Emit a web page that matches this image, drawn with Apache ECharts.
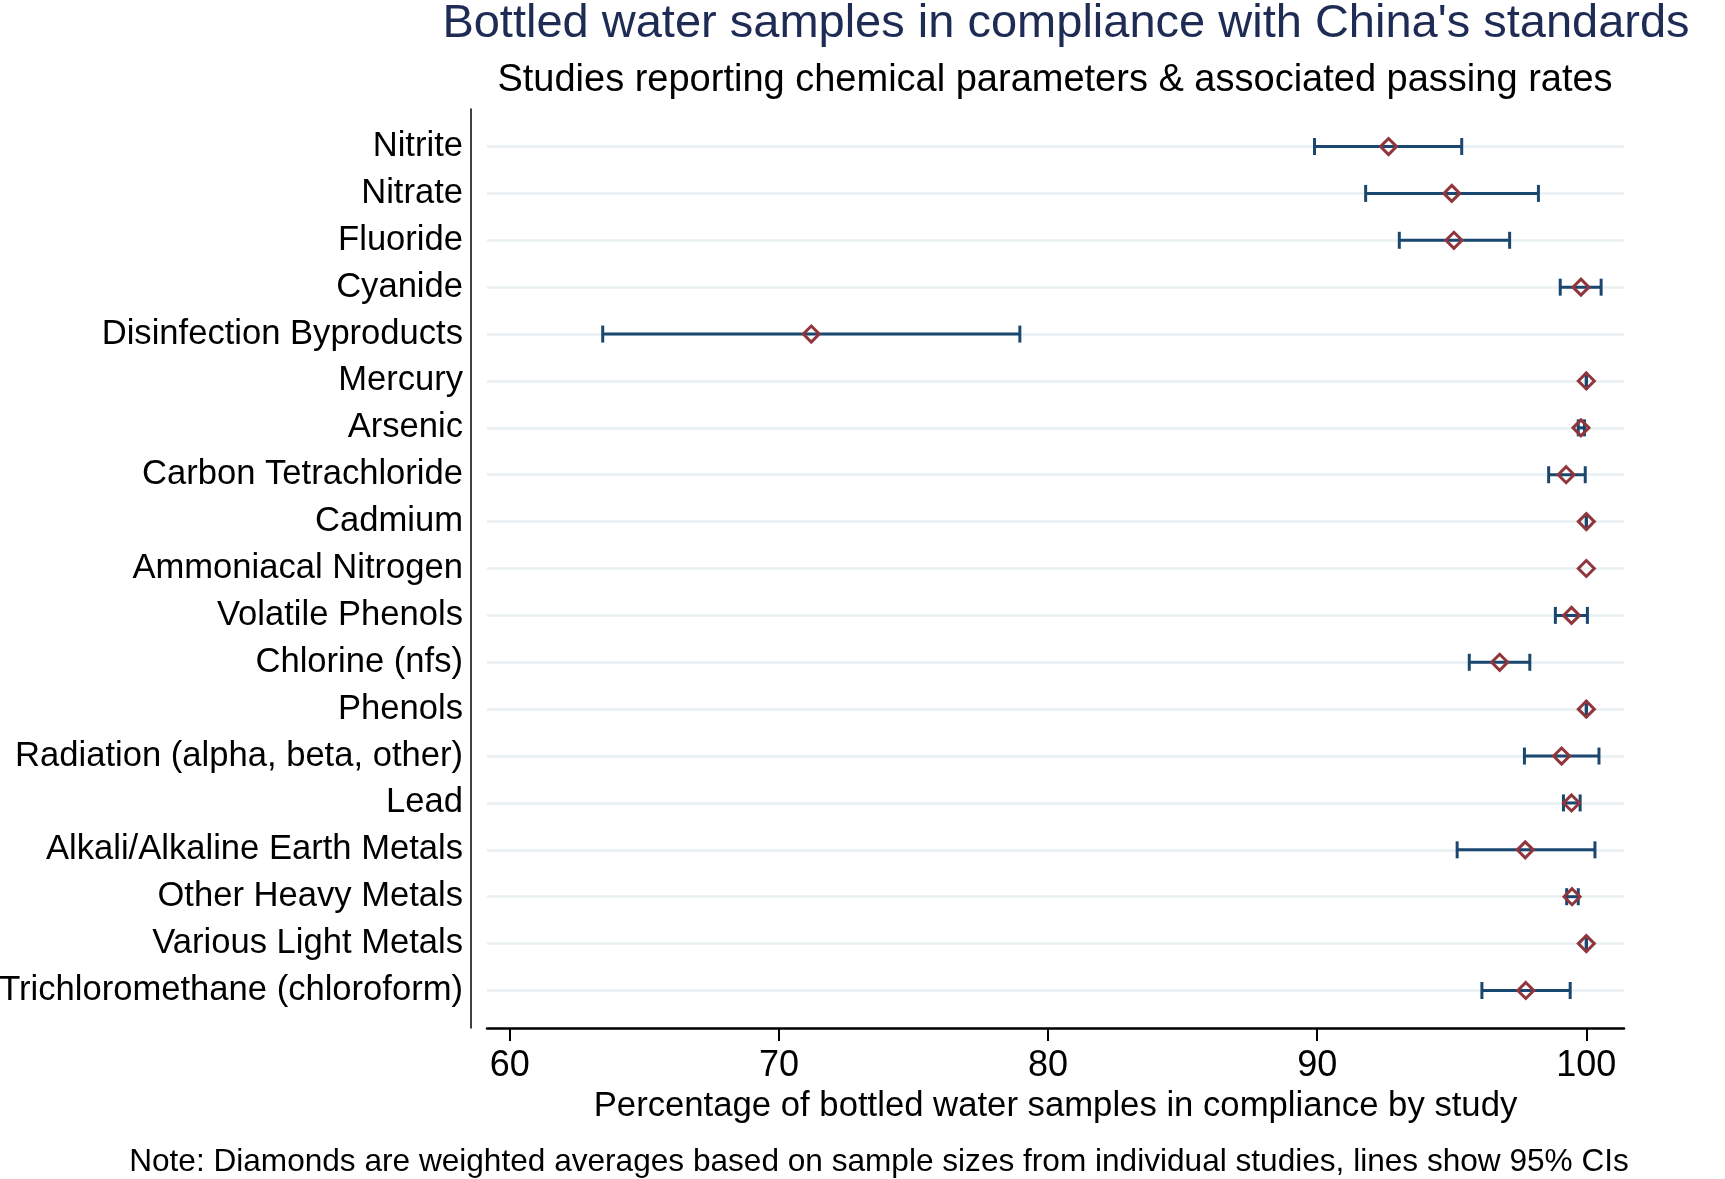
<!DOCTYPE html>
<html>
<head>
<meta charset="utf-8">
<title>Bottled water compliance</title>
<script src="https://cdn.jsdelivr.net/npm/echarts@6/dist/echarts.min.js"></script>
<style>
  html, body { margin: 0; padding: 0; background: #fff; }
  #chart { width: 1725px; height: 1179px; }
</style>
</head>
<body>
<div id="chart"></div>
<script>
// rows, top to bottom
const categories = [
  'Nitrite', 'Nitrate', 'Fluoride', 'Cyanide', 'Disinfection Byproducts',
  'Mercury', 'Arsenic', 'Carbon Tetrachloride', 'Cadmium', 'Ammoniacal Nitrogen',
  'Volatile Phenols', 'Chlorine (nfs)', 'Phenols', 'Radiation (alpha, beta, other)', 'Lead',
  'Alkali/Alkaline Earth Metals', 'Other Heavy Metals', 'Various Light Metals', 'Trichloromethane (chloroform)'
];
// weighted averages (diamonds)
const meanValues = [92.65, 95.0, 95.08, 99.8, 71.2, 100, 99.8, 99.25, 100, 100,
  99.45, 96.78, 100, 99.08, 99.45, 97.73, 99.47, 100, 97.75];
// 95% CI ends (null = no interval drawn)
const lowerCI = [89.9, 91.8, 93.05, 99.03, 63.45, 100, 99.7, 98.6, 100, null,
  98.85, 95.65, 100, 97.7, 99.15, 95.2, 99.27, 100, 96.12];
const upperCI = [95.37, 98.22, 97.15, 100.55, 78.95, 100, 99.93, 99.96, 100, null,
  100.04, 97.9, 100, 100.47, 99.77, 100.32, 99.7, 100, 99.4];
const xTicks = [60, 70, 80, 90, 100];
const rowTicks = categories.map((c, i) => i + 1);

const navy = '#1a476f';
const maroon = '#90353b';

const chartObj = echarts.init(document.getElementById('chart'));

const ciData = [];
categories.forEach((c, i) => {
  if (lowerCI[i] != null) ciData.push([lowerCI[i], upperCI[i], i + 1]);
});
const meanData = meanValues.map((v, i) => [v, i + 1]);

const option = {
  backgroundColor: '#ffffff',
  animation: false,
  textStyle: { fontFamily: 'Liberation Sans, Arial, sans-serif' },
  grid: { left: 487, right: 101, top: 109, bottom: 151, containLabel: false, outerBoundsMode: 'none' },
  graphic: [
    {
      type: 'text', x: 1066, y: 24,
      style: { text: "Bottled water samples in compliance with China's standards", fill: '#1e2b55',
        font: '47px "Liberation Sans", Arial, sans-serif', textAlign: 'center', textVerticalAlign: 'middle' }
    },
    {
      type: 'text', x: 1055, y: 81,
      style: { text: 'Studies reporting chemical parameters & associated passing rates', fill: '#000',
        font: '38px "Liberation Sans", Arial, sans-serif', textAlign: 'center', textVerticalAlign: 'middle' }
    },
    {
      type: 'text', x: 879, y: 1162,
      style: { text: 'Note: Diamonds are weighted averages based on sample sizes from individual studies, lines show 95% CIs', fill: '#000',
        font: '31.6px "Liberation Sans", Arial, sans-serif', textAlign: 'center', textVerticalAlign: 'middle' }
    }
  ],
  xAxis: {
    type: 'value',
    min: 59.15,
    max: 101.4,
    name: 'Percentage of bottled water samples in compliance by study',
    nameLocation: 'middle',
    nameGap: 57,
    nameTextStyle: { fontSize: 34.7, color: '#000' },
    axisLine: { show: true, lineStyle: { color: '#000', width: 2.5 } },
    axisTick: { show: true, length: 13, lineStyle: { color: '#000', width: 2 }, customValues: xTicks },
    axisLabel: { fontSize: 36, color: '#000', margin: 20, customValues: xTicks },
    splitLine: { show: false }
  },
  yAxis: {
    type: 'value',
    inverse: true,
    min: 0.2,
    max: 19.8,
    offset: 16,
    axisLine: { show: true, lineStyle: { color: '#000', width: 1.5 } },
    axisTick: { show: false, customValues: rowTicks },
    axisLabel: {
      fontSize: 34.6, color: '#000', margin: 8, customValues: rowTicks,
      padding: [9, 0, 0, 0],
      formatter: v => categories[Math.round(v) - 1] || ''
    },
    splitLine: { show: true, lineStyle: { color: '#e8f0f2', width: 2.5 } }
  },
  series: [
    {
      type: 'custom',
      name: 'ci',
      data: ciData,
      encode: { x: [0, 1], y: 2 },
      renderItem: function (params, api) {
        const lo = api.coord([api.value(0), api.value(2)]);
        const hi = api.coord([api.value(1), api.value(2)]);
        const cap = 8.5;
        const style = { stroke: navy, lineWidth: 3 };
        return {
          type: 'group',
          children: [
            { type: 'line', shape: { x1: lo[0], y1: lo[1], x2: hi[0], y2: hi[1] }, style: style },
            { type: 'line', shape: { x1: lo[0], y1: lo[1] - cap, x2: lo[0], y2: lo[1] + cap }, style: style },
            { type: 'line', shape: { x1: hi[0], y1: hi[1] - cap, x2: hi[0], y2: hi[1] + cap }, style: style }
          ]
        };
      },
      z: 2
    },
    {
      type: 'scatter',
      name: 'mean',
      data: meanData,
      symbol: 'diamond',
      symbolSize: 16,
      itemStyle: { color: 'rgba(255,255,255,0)', borderColor: maroon, borderWidth: 3, opacity: 1 },
      z: 3
    }
  ]
};

chartObj.setOption(option);
</script>
</body>
</html>
